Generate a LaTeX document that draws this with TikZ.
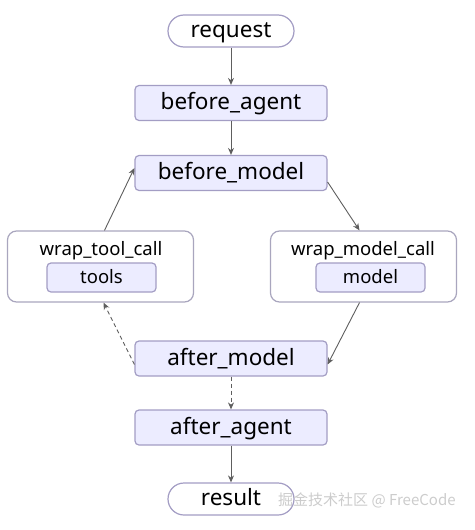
\documentclass[tikz,border=0pt]{standalone}
\usepackage{fontspec}
\setmainfont{Noto Sans}
\newfontfamily\cjk{Noto Sans CJK SC}
\usetikzlibrary{arrows.meta,positioning}
\definecolor{boxfill}{HTML}{ECECFF}
\definecolor{boxdraw}{HTML}{A39DC4}
\definecolor{clusterdraw}{HTML}{A9A6BE}
\definecolor{edge}{HTML}{5E5E5E}
\tikzset{
  bigtxt/.style={font=\fontsize{22.5}{24}\selectfont, text height=18pt, text depth=4.5pt},
  smalltxt/.style={font=\fontsize{18.5}{20}\selectfont, text height=14.8pt, text depth=3.7pt},
  stepbox/.style={bigtxt, draw=boxdraw, fill=boxfill, line width=1.2pt, rounded corners=4pt, minimum width=192pt, minimum height=35pt, inner sep=0pt},
  terminal/.style={bigtxt, draw=boxdraw, fill=white, line width=1.2pt, rounded corners=16pt, minimum width=126pt, minimum height=32pt, inner sep=0pt},
  cluster/.style={draw=clusterdraw, fill=white, line width=1.2pt, rounded corners=9pt, minimum width=186pt, minimum height=71pt, inner sep=0pt},
  innerbox/.style={smalltxt, draw=boxdraw, fill=boxfill, line width=1.2pt, rounded corners=4pt, minimum width=109pt, minimum height=29pt, inner sep=0pt},
  title/.style={smalltxt, inner sep=0pt},
  flow/.style={draw=edge, line width=0.9pt, -{Stealth[length=7pt,width=6pt]}},
  dflow/.style={flow, dash pattern=on 4pt off 3pt},
}
\begin{document}
\begin{tikzpicture}[x=1pt,y=-1pt]
\useasboundingbox (0,0) rectangle (474,530);
\node[terminal] (request) at (231,31) {request};
\node[stepbox] (ba) at (231,103) {before\_agent};
\node[stepbox] (bm) at (231,173) {before\_model};
\node[cluster] (wtc) at (100.5,266.5) {};
\node[title] (wtct) at (101,250) {wrap\_tool\_call};
\node[innerbox] (tools) at (101.5,277.5) {tools};
\node[cluster] (wmc) at (363.5,266.5) {};
\node[title] (wmct) at (363,250) {wrap\_model\_call};
\node[innerbox] (model) at (370.5,277.5) {model};
\node[stepbox] (am) at (231,358.5) {after\_model};
\node[stepbox] (aa) at (231,427.5) {after\_agent};
\node[terminal] (result) at (231,499) {result};
\node[anchor=west, text=gray!40, font=\cjk\fontsize{15}{17}\selectfont, inner sep=0pt] (wm) at (278,500) {掘金技术社区 @ FreeCode};
\draw[flow] (request) -- (ba);
\draw[flow] (ba) -- (bm);
\draw[flow] ([yshift=-9pt]bm.east) -- ([xshift=-4pt]wmc.north);
\draw[flow] ([xshift=-4pt]wmc.south) -- ([yshift=-6pt]am.east);
\draw[dflow] ([yshift=-6pt]am.west) -- ([xshift=3pt]wtc.south);
\draw[flow] ([xshift=4pt]wtc.north) -- ([yshift=5pt]bm.west);
\draw[dflow] (am) -- (aa);
\draw[flow] (aa) -- (result);
\end{tikzpicture}
\end{document}
